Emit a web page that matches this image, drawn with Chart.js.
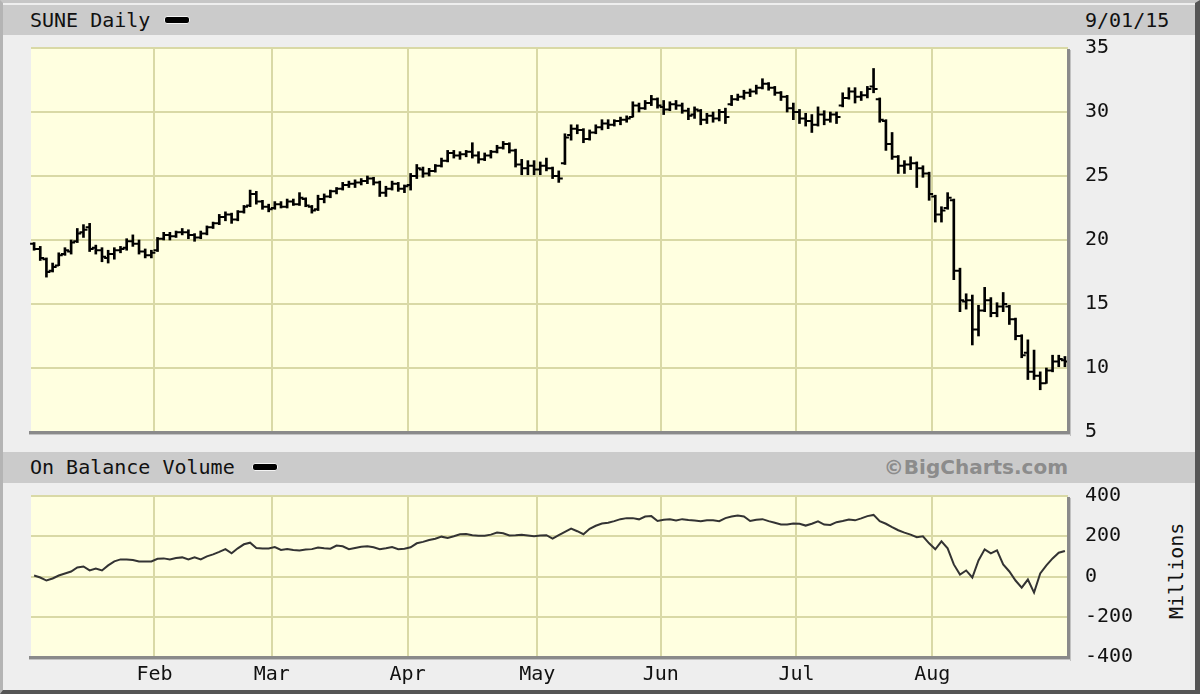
<!DOCTYPE html>
<html>
<head>
<meta charset="utf-8">
<script src="https://cdn.jsdelivr.net/npm/chart.js@4.4.0/dist/chart.umd.min.js"></script>
<style>
  body { margin: 0; width: 1200px; height: 694px; background: #eeeeee; position: relative; overflow: hidden; font-family: 'DejaVu Sans Mono', monospace; }
  .band { position: absolute; left: 3px; width: 1192px; height: 30px; background: #cbcbcb; }
  .txt { position: absolute; font-size: 20px; line-height: 30px; color: #111; white-space: nowrap; }
  .key { position: absolute; width: 24px; height: 6px; background: #000; border-radius: 3px; border: 1px solid #f4f4f4; }
  .brand { position: absolute; right: 132px; top: 452px; line-height: 31px; font-family: 'DejaVu Sans', sans-serif; font-weight: bold; font-size: 20px; color: #8c8c8c; }
  .units { position: absolute; left: 1128px; top: 559px; width: 96px; height: 24px; line-height: 24px; font-size: 20px; text-align: center; color: #111; transform: rotate(-90deg); }
  canvas { position: absolute; left: 0; }
  .frame { position: absolute; left: 0; top: 0; width: 1200px; height: 694px; box-sizing: border-box; border-style: solid; border-width: 3px 5px 4px 3px; border-color: #c6c6c6 #555 #555 #b4b4b4; pointer-events: none; }
</style>
</head>
<body>
<div class="band" style="top:5px"></div>
<div class="txt" style="left:30px; top:5px">SUNE Daily</div>
<div class="key" style="left:164px; top:16px"></div>
<div class="txt" style="left:1085px; top:5px">9/01/15</div>

<div class="band" style="top:452px; height:31px"></div>
<div class="txt" style="left:30px; top:452px; line-height:31px">On Balance Volume</div>
<div class="key" style="left:252px; top:463px"></div>
<div class="brand">©BigCharts.com</div>
<div class="units">Millions</div>

<canvas id="priceChart" width="1200" height="440" style="top:0"></canvas>
<canvas id="obvChart" width="1200" height="207" style="top:483px"></canvas>
<div class="frame"></div>

<script>
// trading days per month, Jan 2 2015 .. Sep 1 2015
const tradingDays = [
  [1, [2,5,6,7,8,9,12,13,14,15,16,20,21,22,23,26,27,28,29,30]],
  [2, [2,3,4,5,6,9,10,11,12,13,17,18,19,20,23,24,25,26,27]],
  [3, [2,3,4,5,6,9,10,11,12,13,16,17,18,19,20,23,24,25,26,27,30,31]],
  [4, [1,2,6,7,8,9,10,13,14,15,16,17,20,21,22,23,24,27,28,29,30]],
  [5, [1,4,5,6,7,8,11,12,13,14,15,18,19,20,21,22,26,27,28,29]],
  [6, [1,2,3,4,5,8,9,10,11,12,15,16,17,18,19,22,23,24,25,26,29,30]],
  [7, [1,2,6,7,8,9,10,13,14,15,16,17,20,21,22,23,24,27,28,29,30,31]],
  [8, [3,4,5,6,7,10,11,12,13,14,17,18,19,20,21,24,25,26,27,28,31]],
  [9, [1]]
];
const monthNames = ['', 'Jan', 'Feb', 'Mar', 'Apr', 'May', 'Jun', 'Jul', 'Aug', 'Sep'];
const labeledMonths = [2, 3, 4, 5, 6, 7, 8];

// price bars (rows = months)
const opens = [
  19.7,19.3,18.5,17.6,18.0,18.9,19.1,19.9,20.6,21.0,19.4,19.2,18.6,18.9,19.2,19.4,19.9,19.7,19.1,18.8,
  19.2,20.1,20.4,20.3,20.6,20.6,20.4,20.2,20.5,21.0,21.3,21.8,22.0,21.6,22.2,22.7,23.6,23.0,22.6,
  22.5,22.8,22.6,23.0,22.8,23.2,22.6,22.4,23.2,23.4,23.8,24.0,24.3,24.4,24.5,24.6,24.8,24.5,23.7,24.0,24.4,24.0,
  24.3,25.0,25.5,25.2,25.4,25.8,26.2,26.8,26.6,26.7,26.9,26.6,26.3,26.6,26.9,27.2,27.5,27.0,25.9,25.6,25.8,
  25.5,25.8,25.6,25.0,26.0,28.2,28.7,28.6,27.9,28.4,28.8,29.1,29.0,29.3,29.4,29.6,30.5,30.3,30.7,31.0,
  30.4,30.2,30.6,30.5,30.1,29.8,30.1,29.4,29.7,29.5,30.0,30.6,31.0,31.2,31.5,31.6,31.9,32.2,31.9,31.5,31.2,30.3,
  30.0,29.5,29.3,29.0,29.8,29.4,29.8,30.5,31.1,31.6,31.2,31.3,32.0,31.0,29.3,27.5,26.5,25.8,25.9,26.0,25.6,25.2,
  23.4,22.0,22.5,23.1,17.6,15.2,15.3,13.0,14.5,15.3,14.3,14.8,14.8,13.8,12.5,11.2,9.7,9.4,8.8,9.8,10.5,
  10.6
];
const highs = [
  19.8,19.5,18.6,18.2,19.0,19.4,20.0,20.9,21.2,21.3,19.6,19.4,19.2,19.4,19.5,20.1,20.4,20.0,19.3,19.2,
  20.2,20.6,20.6,20.7,20.9,20.8,20.5,20.7,21.1,21.4,22.0,22.2,22.1,22.3,22.7,23.9,23.8,23.1,22.8,
  23.0,23.0,23.2,23.2,23.7,23.3,22.7,23.5,23.6,23.9,24.1,24.5,24.6,24.7,24.8,25.0,24.9,24.6,24.2,24.6,24.5,24.3,
  25.2,25.9,25.7,25.6,25.9,26.4,27.0,27.0,26.9,27.0,27.6,26.9,26.8,27.0,27.4,27.7,27.6,27.1,26.3,26.2,26.2,
  26.1,26.4,25.7,25.4,28.3,29.0,29.0,28.7,28.6,29.0,29.4,29.4,29.4,29.6,29.7,30.8,30.7,30.9,31.3,31.1,
  30.9,30.8,30.9,30.7,30.3,30.4,30.2,29.9,30.0,30.2,30.3,31.3,31.4,31.7,31.8,32.1,32.6,32.3,32.0,31.6,31.3,30.7,
  30.2,29.9,29.8,30.4,30.1,30.0,30.0,31.5,31.9,31.9,31.6,32.0,33.4,31.1,29.4,28.4,26.6,26.2,26.5,26.1,25.8,25.3,
  23.5,22.6,23.7,23.2,17.8,15.8,15.7,14.9,16.3,15.5,15.1,15.9,14.9,13.9,12.6,12.2,11.4,9.7,10.0,11.0,11.0,
  10.9
];
const lows = [
  19.2,18.4,17.1,17.5,18.0,18.8,18.9,19.8,20.2,19.1,18.9,18.3,18.2,18.5,19.0,19.2,19.5,18.9,18.6,18.6,
  19.1,20.0,20.0,20.2,20.4,20.1,19.9,20.1,20.4,20.9,21.2,21.5,21.3,21.5,22.1,22.6,22.8,22.4,22.2,
  22.4,22.5,22.5,22.7,22.7,22.6,22.1,22.3,22.9,23.3,23.6,23.9,24.1,24.1,24.3,24.4,24.3,23.4,23.4,23.9,23.8,23.7,
  23.9,24.8,24.9,25.0,25.3,25.7,26.1,26.4,26.3,26.5,26.4,26.0,26.2,26.4,26.8,27.1,26.8,25.7,25.1,25.1,25.1,
  25.1,25.4,24.8,24.5,25.9,27.8,28.3,27.6,27.8,28.3,28.6,28.7,28.9,29.0,29.2,29.6,30.0,30.2,30.5,30.3,
  29.8,30.1,30.2,29.9,29.4,29.5,29.0,29.1,29.2,29.3,29.1,30.5,30.9,31.0,31.2,31.4,31.8,31.7,31.3,30.9,30.0,29.4,
  29.1,28.9,28.4,28.9,29.0,29.2,29.1,30.4,31.0,30.7,30.9,31.1,31.5,29.2,27.0,26.3,25.2,25.2,25.5,24.1,24.9,23.1,
  21.4,21.4,22.4,16.9,14.4,14.6,11.8,12.5,14.4,14.0,14.0,14.4,13.4,12.2,10.8,9.1,9.1,8.3,8.8,9.7,10.1,
  10.1
];
const closes = [
  19.3,18.6,17.5,17.9,18.8,19.2,19.8,20.5,20.8,19.3,19.2,18.7,18.9,19.2,19.3,19.9,19.7,19.1,18.8,19.0,
  20.1,20.4,20.3,20.6,20.6,20.4,20.2,20.5,21.0,21.3,21.8,22.0,21.6,22.2,22.6,23.6,23.0,22.6,22.4,
  22.8,22.6,23.0,22.8,23.3,22.7,22.3,23.2,23.4,23.8,24.0,24.3,24.4,24.5,24.6,24.8,24.5,23.7,24.0,24.4,24.0,24.2,
  25.0,25.6,25.2,25.4,25.8,26.2,26.8,26.6,26.7,26.9,26.6,26.3,26.6,26.9,27.2,27.5,27.0,25.9,25.6,25.8,25.5,
  25.8,25.6,25.0,24.8,28.0,28.7,28.6,27.9,28.4,28.8,29.1,29.0,29.3,29.4,29.5,30.5,30.3,30.7,31.0,30.5,
  30.2,30.6,30.5,30.1,29.7,30.2,29.4,29.7,29.5,30.0,29.6,31.0,31.2,31.5,31.6,31.9,32.2,31.9,31.5,31.2,30.3,30.0,
  29.5,29.3,29.0,29.8,29.4,29.8,29.6,31.1,31.6,31.2,31.3,31.8,31.8,29.4,27.5,26.5,25.8,25.9,26.0,25.6,25.2,23.6,
  22.0,22.3,23.3,17.6,15.3,15.3,13.0,14.5,15.3,14.3,14.8,15.0,13.8,12.5,11.0,9.7,9.4,8.8,9.8,10.5,10.7,
  10.5
];

// on balance volume, millions
const obv = [
  5,-5,-20,-10,5,15,25,45,50,30,40,30,55,75,85,85,82,75,75,75,
  88,90,85,92,95,85,95,85,100,110,122,136,115,140,160,168,142,139,139,
  146,132,136,132,129,134,136,144,140,138,154,150,136,142,148,150,145,136,140,146,136,138,
  145,165,172,181,188,198,192,200,210,211,205,203,203,208,218,215,204,205,207,204,200,
  204,205,188,205,222,238,225,210,237,252,263,267,275,285,290,290,284,298,300,276,
  282,284,278,285,281,278,275,280,279,275,290,298,303,298,276,282,285,275,267,258,258,263,
  262,253,262,274,258,256,270,276,283,279,289,300,306,275,262,245,230,218,208,195,200,165,
  135,175,140,60,10,30,-5,80,135,115,130,60,25,-20,-55,-15,-80,15,55,90,118,
  127
];

const priceTicks = [5, 10, 15, 20, 25, 30, 35];
const obvTicks = [-400, -200, 0, 200, 400];

const GRID = '#d9d9a6';
const PLOT_BG = '#ffffe0';

// labels and month boundaries
const labels = [];
const monthStartName = {};
tradingDays.forEach(([m, days]) => {
  if (labeledMonths.includes(m)) monthStartName[labels.length] = monthNames[m];
  days.forEach(d => labels.push(`${m}/${d}`));
});

function gridColor(ctx) {
  return monthStartName[ctx.index] ? GRID : 'rgba(0,0,0,0)';
}

Chart.defaults.font.family = "'DejaVu Sans Mono', monospace";
Chart.defaults.font.size = 20;
Chart.defaults.color = '#111';

const plotBg = {
  id: 'plotBg',
  beforeDraw(chart) {
    const { ctx, chartArea: a } = chart;
    ctx.save();
    ctx.fillStyle = PLOT_BG;
    ctx.fillRect(a.left, a.top, a.right - a.left, a.bottom - a.top);
    ctx.restore();
  },
  afterDraw(chart) {
    const { ctx, chartArea: a } = chart;
    ctx.save();
    ctx.fillStyle = '#8a8a8a';
    ctx.fillRect(a.right - 1, a.top + 1, 3, a.bottom - a.top + 2);
    ctx.fillRect(a.left - 2, a.bottom - 1, a.right - a.left + 4, 3);
    ctx.fillStyle = '#c2c2c2';
    ctx.fillRect(a.right + 2, a.top + 2, 1, a.bottom - a.top + 2);
    ctx.fillRect(a.left - 2, a.bottom + 2, a.right - a.left + 5, 1);
    ctx.restore();
  }
};

// open tick to the left, close tick to the right
const ohlcTicks = {
  id: 'ohlcTicks',
  afterDatasetsDraw(chart) {
    const { ctx, scales: { x, y } } = chart;
    ctx.save();
    ctx.strokeStyle = '#000';
    ctx.lineWidth = 2;
    ctx.beginPath();
    opens.forEach((o, i) => {
      const px = x.getPixelForValue(i);
      const po = y.getPixelForValue(o);
      const pc = y.getPixelForValue(closes[i]);
      ctx.moveTo(px - 4, po); ctx.lineTo(px, po);
      ctx.moveTo(px, pc); ctx.lineTo(px + 4, pc);
    });
    ctx.stroke();
    ctx.restore();
  }
};

const yAxisBase = (min, max, ticks) => ({
  position: 'right',
  min: min,
  max: max,
  afterBuildTicks: s => { s.ticks = ticks.map(v => ({ value: v })); },
  ticks: { padding: 17, color: '#111' },
  grid: { color: GRID, lineWidth: 2, drawTicks: false },
  border: { display: false },
  afterFit: s => { s.width = 100; s.paddingTop = 0; s.paddingBottom = 0; }
});

const xAfterFit = h => s => { s.height = h; s.paddingLeft = 0; s.paddingRight = 0; };

new Chart(document.getElementById('priceChart'), {
  type: 'bar',
  data: {
    labels: labels,
    datasets: [{
      data: lows.map((l, i) => [l, highs[i]]),
      backgroundColor: '#000',
      borderWidth: 0,
      barThickness: 2
    }]
  },
  options: {
    responsive: false,
    animation: false,
    devicePixelRatio: 1,
    layout: { padding: { left: 31, top: 48, right: 32, bottom: 8 } },
    plugins: { legend: { display: false }, tooltip: { enabled: false } },
    scales: {
      x: {
        offset: true,
        grid: { offset: true, color: gridColor, lineWidth: 2, drawTicks: false },
        border: { display: false },
        ticks: { display: false },
        afterFit: xAfterFit(0)
      },
      y: yAxisBase(5, 35, priceTicks)
    }
  },
  plugins: [plotBg, ohlcTicks]
});

new Chart(document.getElementById('obvChart'), {
  type: 'line',
  data: {
    labels: labels,
    datasets: [{
      data: obv,
      borderColor: '#333',
      borderWidth: 2,
      pointRadius: 0,
      tension: 0
    }]
  },
  options: {
    responsive: false,
    animation: false,
    devicePixelRatio: 1,
    layout: { padding: { left: 31, top: 13, right: 32, bottom: 3 } },
    plugins: { legend: { display: false }, tooltip: { enabled: false } },
    scales: {
      x: {
        offset: true,
        grid: { offset: true, color: gridColor, lineWidth: 2, drawTicks: false },
        border: { display: false },
        ticks: {
          autoSkip: false,
          maxRotation: 0,
          minRotation: 0,
          padding: 6,
          labelOffset: -3,
          color: '#111',
          callback: (value, index) => monthStartName[index] || ''
        },
        afterFit: xAfterFit(30)
      },
      y: yAxisBase(-400, 400, obvTicks)
    }
  },
  plugins: [plotBg]
});
</script>
</body>
</html>
